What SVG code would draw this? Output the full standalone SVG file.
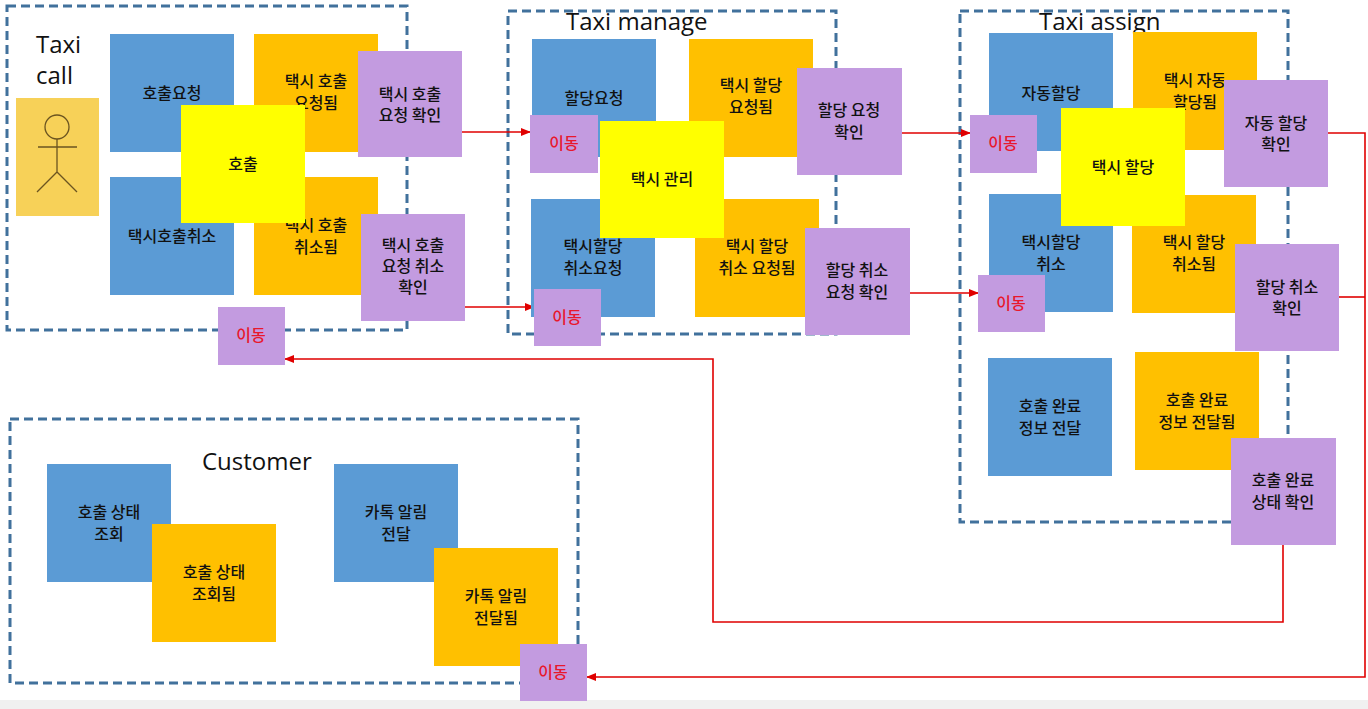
<svg xmlns="http://www.w3.org/2000/svg" width="1368" height="709" viewBox="0 0 1368 709">
<style>
.fr{fill:none;stroke:#41719c;stroke-width:3;stroke-dasharray:9 5}
.b{fill:#5b9bd5}.o{fill:#ffc000}.y{fill:#ffff00}.p{fill:#c39be0}
text{font-family:"Noto Sans CJK KR","Liberation Sans",sans-serif;font-size:16px;font-weight:500;fill:#111;text-anchor:middle}
.t{font-family:"Open Sans","Noto Sans",sans-serif;font-size:24px;font-weight:400;text-anchor:start}
.r{fill:#e8182c}
.c{fill:none;stroke:#e00000;stroke-width:1.6}
</style>
<defs><marker id="a" markerWidth="10" markerHeight="8" refX="9" refY="4" orient="auto" markerUnits="userSpaceOnUse"><path d="M0,0L10,4L0,8z" fill="#e00000"/></marker></defs>
<rect width="1368" height="709" fill="#fff"/>
<rect x="0" y="700" width="1368" height="9" fill="#f0f0f0"/>
<g id="frames">
<rect class="fr" x="7" y="6" width="400" height="324"/>
<rect class="fr" x="508" y="11" width="328" height="323"/>
<rect class="fr" x="960" y="11" width="328" height="511"/>
<rect class="fr" x="10" y="419" width="568" height="264"/>
<text class="t" x="36" y="53">Taxi</text><text class="t" x="36" y="84">call</text>
<text class="t" x="566" y="30">Taxi manage</text>
<text class="t" x="1039" y="30">Taxi assign</text>
<text class="t" x="202" y="470">Customer</text>
</g>
<g id="actor">
<rect x="16" y="98" width="83" height="118" fill="#f7d158"/>
<g fill="none" stroke="#6b5420" stroke-width="1.3"><circle cx="57" cy="127" r="12"/><path d="M57,139V172M38,147H77M37,192L57,172L77,192"/></g>
</g>
<g id="connectors">
<path class="c" d="M462,132H530" marker-end="url(#a)"/>
<path class="c" d="M465,307H534" marker-end="url(#a)"/>
<path class="c" d="M902,133H970" marker-end="url(#a)"/>
<path class="c" d="M910,293H978" marker-end="url(#a)"/>
<path class="c" d="M1328,133H1365V677H587" marker-end="url(#a)"/>
<path class="c" d="M1339,297H1365"/>
<path class="c" d="M1283,545V622H713V359H285" marker-end="url(#a)"/>
</g>
<g id="n1"><rect class="b" x="110" y="34" width="124" height="118"/><text x="172" y="99">호출요청</text></g>
<g id="n2"><rect class="o" x="254" y="34" width="124" height="118"/><text x="316" y="87">택시 호출</text><text x="316" y="109">요청됨</text></g>
<g id="n3"><rect class="b" x="110" y="177" width="124" height="118"/><text x="172" y="242">택시호출취소</text></g>
<g id="n4"><rect class="o" x="254" y="177" width="124" height="118"/><text x="316" y="231">택시 호출</text><text x="316" y="253">취소됨</text></g>
<g id="n5"><rect class="y" x="181" y="105" width="124" height="118"/><text x="243" y="170">호출</text></g>
<g id="n6"><rect class="p" x="358" y="51" width="104" height="106"/><text x="410" y="100">택시 호출</text><text x="410" y="121">요청 확인</text></g>
<g id="n7"><rect class="p" x="361" y="214" width="104" height="107"/><text x="413" y="251">택시 호출</text><text x="413" y="272">요청 취소</text><text x="413" y="293">확인</text></g>
<g id="n8"><rect class="p" x="218" y="307" width="67" height="58"/><text class="r" x="251" y="341">이동</text></g>
<g id="m1"><rect class="b" x="532" y="39" width="124" height="118"/><text x="594" y="104">할당요청</text></g>
<g id="m2"><rect class="o" x="689" y="39" width="124" height="118"/><text x="751" y="91">택시 할당</text><text x="751" y="113">요청됨</text></g>
<g id="m3"><rect class="b" x="531" y="199" width="124" height="118"/><text x="593" y="252">택시할당</text><text x="593" y="274">취소요청</text></g>
<g id="m4"><rect class="o" x="695" y="199" width="124" height="118"/><text x="757" y="252">택시 할당</text><text x="757" y="274">취소 요청됨</text></g>
<g id="m5"><rect class="p" x="530" y="115" width="68" height="58"/><text class="r" x="564" y="149">이동</text></g>
<g id="m6"><rect class="y" x="600" y="121" width="124" height="117"/><text x="662" y="185">택시 관리</text></g>
<g id="m7"><rect class="p" x="797" y="68" width="105" height="107"/><text x="849" y="116">할당 요청</text><text x="849" y="138">확인</text></g>
<g id="m8"><rect class="p" x="805" y="228" width="105" height="107"/><text x="857" y="276">할당 취소</text><text x="857" y="298">요청 확인</text></g>
<g id="m9"><rect class="p" x="534" y="289" width="67" height="57"/><text class="r" x="567" y="323">이동</text></g>
<g id="a1"><rect class="b" x="989" y="33" width="124" height="118"/><text x="1051" y="99">자동할당</text></g>
<g id="a2"><rect class="o" x="1133" y="32" width="124" height="118"/><text x="1195" y="86">택시 자동</text><text x="1195" y="108">할당됨</text></g>
<g id="a3"><rect class="b" x="989" y="194" width="124" height="118"/><text x="1051" y="248">택시할당</text><text x="1051" y="270">취소</text></g>
<g id="a4"><rect class="o" x="1132" y="195" width="124" height="118"/><text x="1194" y="248">택시 할당</text><text x="1194" y="270">취소됨</text></g>
<g id="a5"><rect class="p" x="970" y="115" width="67" height="58"/><text class="r" x="1003" y="149">이동</text></g>
<g id="a6"><rect class="y" x="1061" y="108" width="124" height="118"/><text x="1123" y="173">택시 할당</text></g>
<g id="a7"><rect class="p" x="1224" y="80" width="104" height="107"/><text x="1276" y="129">자동 할당</text><text x="1276" y="150">확인</text></g>
<g id="a8"><rect class="p" x="978" y="275" width="67" height="57"/><text class="r" x="1011" y="309">이동</text></g>
<g id="a9"><rect class="p" x="1235" y="244" width="104" height="107"/><text x="1287" y="293">할당 취소</text><text x="1287" y="314">확인</text></g>
<g id="a10"><rect class="b" x="988" y="358" width="124" height="118"/><text x="1050" y="412">호출 완료</text><text x="1050" y="434">정보 전달</text></g>
<g id="a11"><rect class="o" x="1135" y="352" width="124" height="118"/><text x="1197" y="406">호출 완료</text><text x="1197" y="428">정보 전달됨</text></g>
<g id="a12"><rect class="p" x="1231" y="438" width="105" height="107"/><text x="1283" y="486">호출 완료</text><text x="1283" y="508">상태 확인</text></g>
<g id="c1"><rect class="b" x="47" y="464" width="124" height="118"/><text x="109" y="518">호출 상태</text><text x="109" y="540">조회</text></g>
<g id="c2"><rect class="o" x="152" y="524" width="124" height="118"/><text x="214" y="578">호출 상태</text><text x="214" y="600">조회됨</text></g>
<g id="c3"><rect class="b" x="334" y="464" width="124" height="118"/><text x="396" y="518">카톡 알림</text><text x="396" y="540">전달</text></g>
<g id="c4"><rect class="o" x="434" y="548" width="124" height="118"/><text x="496" y="602">카톡 알림</text><text x="496" y="624">전달됨</text></g>
<g id="c5"><rect class="p" x="520" y="644" width="67" height="57"/><text class="r" x="553" y="678">이동</text></g>
</svg>
